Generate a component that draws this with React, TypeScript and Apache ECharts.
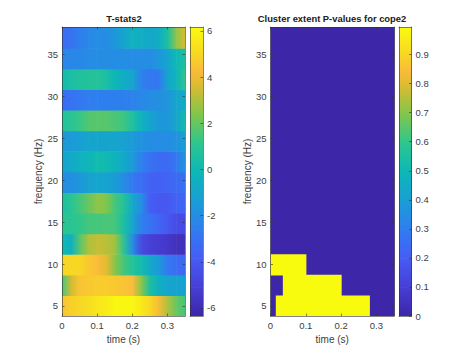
import React, { useEffect, useRef } from "react";
import * as echarts from "echarts";

const timeEdges = [0, 0.025, 0.05, 0.075, 0.1, 0.125, 0.15, 0.175, 0.2, 0.225, 0.25, 0.275, 0.3, 0.325, 0.35];
const freqEdges = [3.8, 6.26, 8.72, 11.18, 13.64, 16.1, 18.56, 21.02, 23.48, 25.94, 28.4, 30.86, 33.32, 35.78, 38.3];
// rows from the lowest band up; one value per time edge
const tStats = [
  [4.5, 4.8, 5, 5.2, 5.5, 5.7, 6, 6, 6, 5.6, 5, 4.2, 3, 2, 1.5],
  [1.5, 3.5, 4.5, 4.6, 4.7, 4.7, 4.6, 4.5, 4.3, 2.5, 0.5, -0.5, -1, -1.1, -1.2],
  [5, 5, 5, 4.6, 4.3, 3.8, 2.5, 1.5, 0.8, 0.2, -0.8, -1.5, -2.8, -3.2, -3.4],
  [0, -0.5, 1.8, 3, 3.3, 3.2, 2.8, 1, -2, -4.6, -5, -5.2, -5.4, -5.8, -5.8],
  [1, 1, 1.2, 1.5, 1.5, 1.6, 1.5, 0.5, -1, -2.5, -3, -3.5, -4, -4.5, -4.6],
  [0.6, 1, 1.5, 2, 2.6, 2.4, 1.5, 0.8, -0.8, -2, -3.8, -4, -4, -3.6, -3.5],
  [-2, -1.9, -1.6, -1.2, -1, -1.1, -1.4, -2, -2.8, -3.2, -3.6, -3.7, -3.5, -3.3, -3],
  [-1, -0.8, -0.4, -0.2, 0.2, 0.1, -0.3, -0.8, -1.5, -2.5, -3, -3.3, -3.3, -2.8, -1.6],
  [-1.5, -1.5, -1.3, -1, -1, -1, -1, -1.2, -1.5, -1.8, -2, -2, -2, -1.8, -1.2],
  [0.8, 1, 1.3, 1.7, 1.8, 1.8, 1.6, 1.4, 0.6, -0.4, -1, -1.6, -1.6, -1, 0.3],
  [-3.2, -3, -2.8, -2.6, -2.5, -2.5, -2.5, -2.5, -2.4, -2.2, -2, -1.9, -1.7, -1, -0.6],
  [0.2, 0.5, 0.7, 0.8, 0.8, 0.5, -0.2, -0.6, -1, -2.4, -2.8, -2.8, -1, -0.3, 1.2],
  [-2.2, -2.2, -2.2, -2, -2, -2, -2, -2, -2, -2, -2, -1.6, -1, 0, 0.6],
  [-3.2, -3, -2.5, -2.2, -2, -2, -1.6, -1, -0.4, -0.6, -0.9, -0.6, 0.5, 2.6, 3.6],
];
// significant cluster spans: [band index, start time, end time]
const clusterSpans = [
  [0, 0.015, 0.28],
  [1, 0.035, 0.2],
  [2, 0, 0.1],
];
const tMin = -6.35, tMax = 6.17, pMin = 0, pMax = 0.995;
const freqTicks = [5, 10, 15, 20, 25, 30, 35];
const timeTicks = [0, 0.1, 0.2, 0.3];
const tBarTicks = [-6, -4, -2, 0, 2, 4, 6];
const pBarTicks = [0, 0.1, 0.2, 0.3, 0.4, 0.5, 0.6, 0.7, 0.8, 0.9];

const parulaPos = [0, 0.1, 0.2, 0.3, 0.4, 0.5, 0.6, 0.7, 0.8, 0.85, 0.9, 1];
const parula: number[][] = [
  [62, 38, 168], [70, 62, 212], [70, 92, 245], [48, 125, 240], [25, 158, 212], [12, 184, 182],
  [45, 198, 142], [130, 198, 75], [222, 187, 47], [250, 188, 58], [247, 212, 38], [249, 251, 14],
];
function col(f: number) {
  const x = Math.max(0, Math.min(1, f));
  let i = 0;
  while (i < parulaPos.length - 2 && x > parulaPos[i + 1]) i++;
  const k = (x - parulaPos[i]) / (parulaPos[i + 1] - parulaPos[i]);
  const c = parula[i].map((v, n) => Math.round(v + (parula[i + 1][n] - v) * k));
  return `rgb(${c[0]},${c[1]},${c[2]})`;
}
const tColor = (v: number) => col((v - tMin) / (tMax - tMin));
const pColor = (v: number) => col((v - pMin) / (pMax - pMin));

const TXT = "#404040";
const LINE = "#303030";
const FONT = "Liberation Sans";

function rectRender(colorOf: (v: number) => string, vertical = false) {
  return (_p: any, api: any) => {
    const x0 = api.value(0), x1 = api.value(1), y0 = api.value(2), y1 = api.value(3);
    const a = api.value(4), b = api.value(5);
    const p0 = api.coord([x0, y1]);
    const p1 = api.coord([x1, y0]);
    const fill = a === b ? colorOf(a) : vertical
      ? new echarts.graphic.LinearGradient(0, 1, 0, 0, [{ offset: 0, color: colorOf(a) }, { offset: 1, color: colorOf(b) }])
      : new echarts.graphic.LinearGradient(0, 0, 1, 0, [{ offset: 0, color: colorOf(a) }, { offset: 1, color: colorOf(b) }]);
    return {
      type: "rect",
      shape: { x: p0[0], y: p0[1], width: p1[0] - p0[0] + 0.6, height: p1[1] - p0[1] + 0.6 },
      style: { fill, stroke: null, lineWidth: 0 },
    };
  };
}

function App() {
  const ref = useRef<HTMLDivElement>(null);
  useEffect(() => {
    const chart = echarts.init(ref.current!, null, { renderer: "svg" });

    const tCells: number[][] = [];
    tStats.forEach((row, r) => {
      for (let c = 0; c < row.length - 1; c++) {
        tCells.push([timeEdges[c], timeEdges[c + 1], freqEdges[r], freqEdges[r + 1], row[c], row[c + 1]]);
      }
    });
    const pCells: number[][] = [[0, 0.35, freqEdges[0], freqEdges[14], 0, 0]];
    clusterSpans.forEach(([r, a, b]) => pCells.push([a, b, freqEdges[r], freqEdges[r + 1], pMax, pMax]));

    const barCells = (lo: number, hi: number) => {
      const out: number[][] = [];
      parulaPos.slice(0, -1).forEach((p, i) => {
        const a = lo + (hi - lo) * p;
        const b = lo + (hi - lo) * parulaPos[i + 1];
        out.push([0, 1, a, b, a, b]);
      });
      return out;
    };

    const grids = [
      { left: 62, top: 27, width: 123, height: 289 },
      { left: 190, top: 27, width: 13, height: 289 },
      { left: 270.5, top: 27, width: 123.5, height: 289 },
      { left: 399, top: 27, width: 12.5, height: 289 },
    ];
    const line = { show: true, onZero: false, lineStyle: { color: LINE, width: 0.6 } };
    const tick = (values: number[]) => ({
      show: true, inside: true, length: 2.5, customValues: values, lineStyle: { color: LINE, width: 0.6 },
    });
    const label = (values: number[], fmt?: (v: number) => string) => ({
      show: true, customValues: values, color: TXT, fontSize: 9.5, fontFamily: FONT, margin: 4,
      formatter: fmt ?? ((v: number) => String(v)),
    });
    const none = { show: false };

    const xAxis: any[] = [];
    const yAxis: any[] = [];
    [0, 2].forEach((g) => {
      xAxis.push({
        type: "value", gridIndex: g, min: 0, max: 0.35, position: "bottom", z: 5,
        axisLine: line, axisTick: tick(timeTicks), axisLabel: label(timeTicks), splitLine: none,
        name: "time (s)", nameLocation: "middle", nameGap: 17,
        nameTextStyle: { color: TXT, fontSize: 10, fontFamily: FONT },
      });
      xAxis.push({
        type: "value", gridIndex: g, min: 0, max: 0.35, position: "top", z: 5,
        axisLine: line, axisTick: tick(timeTicks), axisLabel: none, splitLine: none,
      });
      yAxis.push({
        type: "value", gridIndex: g, min: 3.8, max: 38.3, position: "left", z: 5,
        axisLine: line, axisTick: tick(freqTicks), axisLabel: label(freqTicks), splitLine: none,
        name: "frequency (Hz)", nameLocation: "middle", nameGap: 14, nameRotate: 90,
        nameTextStyle: { color: TXT, fontSize: 10, fontFamily: FONT },
      });
      yAxis.push({
        type: "value", gridIndex: g, min: 3.8, max: 38.3, position: "right", z: 5,
        axisLine: line, axisTick: tick(freqTicks), axisLabel: none, splitLine: none,
      });
    });
    // colour bars
    const addBar = (g: number, lo: number, hi: number, ticks: number[]) => {
      xAxis.push({
        type: "value", gridIndex: g, min: 0, max: 1, position: "bottom", z: 5,
        axisLine: line, axisTick: none, axisLabel: none, splitLine: none,
      });
      xAxis.push({
        type: "value", gridIndex: g, min: 0, max: 1, position: "top", z: 5,
        axisLine: line, axisTick: none, axisLabel: none, splitLine: none,
      });
      yAxis.push({
        type: "value", gridIndex: g, min: lo, max: hi, position: "right", z: 5,
        axisLine: line, axisTick: tick(ticks), axisLabel: label(ticks), splitLine: none,
      });
      yAxis.push({
        type: "value", gridIndex: g, min: lo, max: hi, position: "left", z: 5,
        axisLine: line, axisTick: none, axisLabel: none, splitLine: none,
      });
    };
    addBar(1, tMin, tMax, tBarTicks);
    addBar(3, pMin, pMax, pBarTicks);

    // axis index layout: 0,1 grid0 | 2,3 grid2 | 4,5 grid1 | 6,7 grid3
    chart.setOption({
      animation: false,
      backgroundColor: "#ffffff",
      title: [
        { text: "T-stats2", left: 119, top: 9, textAlign: "center", textStyle: { color: "#202020", fontSize: 9.4, fontWeight: "bold", fontFamily: FONT } },
        { text: "Cluster extent P-values for cope2", left: 327, top: 9, textAlign: "center", textStyle: { color: "#202020", fontSize: 9.4, fontWeight: "bold", fontFamily: FONT } },
      ],
      grid: grids,
      xAxis,
      yAxis,
      series: [
        { type: "custom", xAxisIndex: 0, yAxisIndex: 0, data: tCells, clip: true, renderItem: rectRender(tColor), encode: { x: [0, 1], y: [2, 3] } },
        { type: "custom", xAxisIndex: 2, yAxisIndex: 2, data: pCells, clip: true, renderItem: rectRender(pColor), encode: { x: [0, 1], y: [2, 3] } },
        { type: "custom", xAxisIndex: 4, yAxisIndex: 4, data: barCells(tMin, tMax), clip: true, renderItem: rectRender(tColor, true), encode: { x: [0, 1], y: [2, 3] } },
        { type: "custom", xAxisIndex: 6, yAxisIndex: 6, data: barCells(pMin, pMax), clip: true, renderItem: rectRender(pColor, true), encode: { x: [0, 1], y: [2, 3] } },
      ],
    });
    return () => chart.dispose();
  }, []);
  return <div ref={ref} style={{ width: 474, height: 355, position: "absolute", left: 0, top: 0 }} />;
}

export default App;
